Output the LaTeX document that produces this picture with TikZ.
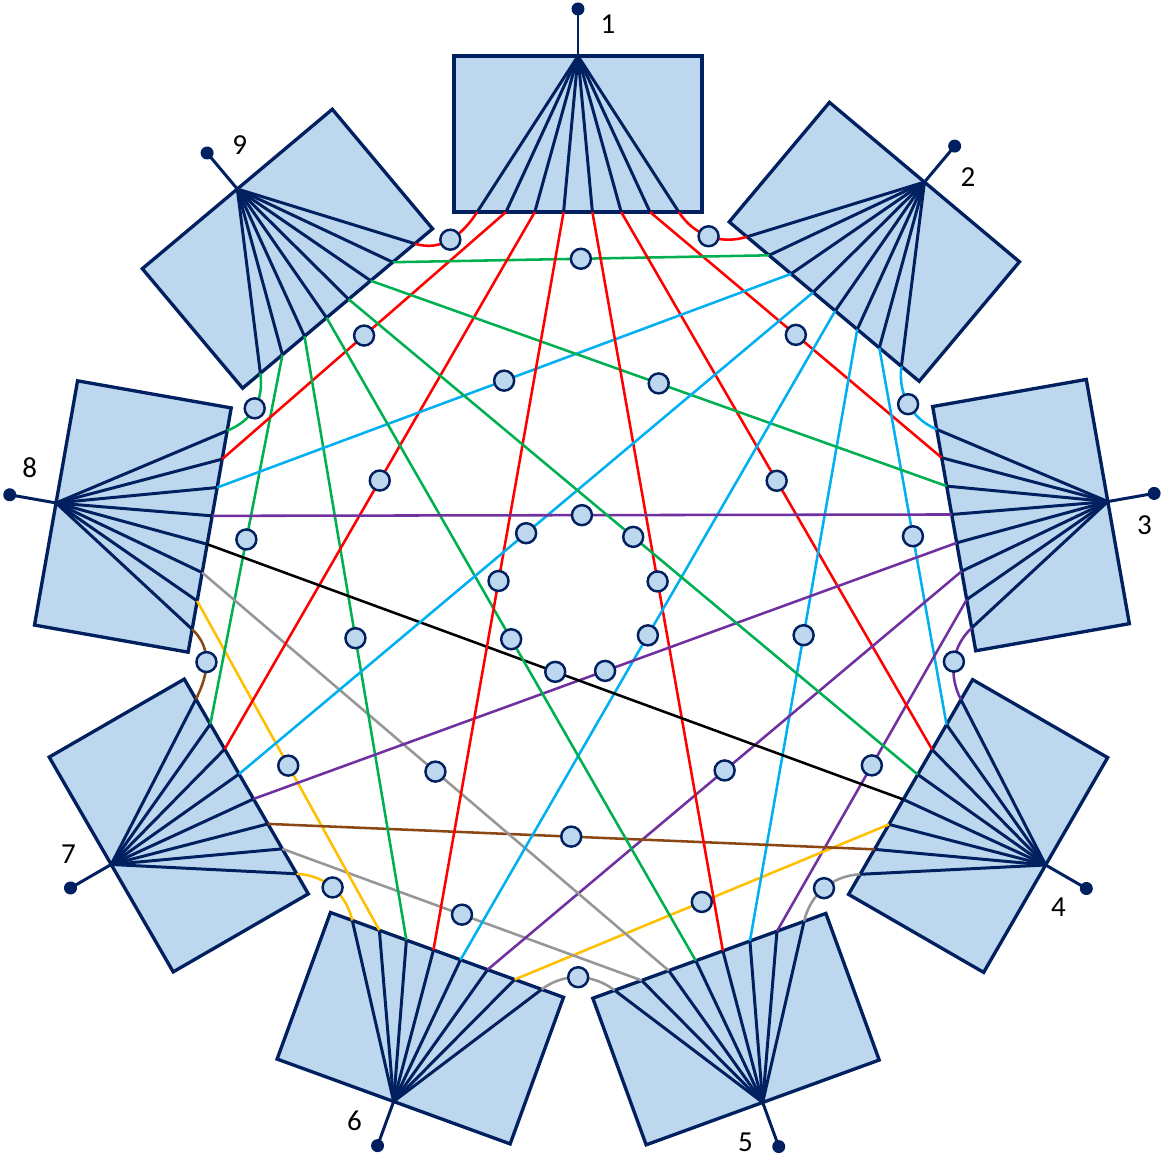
\documentclass[tikz,border=0pt]{standalone}
\usepackage{fontspec}
\setmainfont{Carlito}
\usetikzlibrary{calc}
\definecolor{N}{RGB}{0,32,96}
\definecolor{F}{RGB}{189,215,238}
\definecolor{Rd}{RGB}{255,0,0}
\definecolor{Gn}{RGB}{0,176,80}
\definecolor{Cy}{RGB}{0,176,240}
\definecolor{Pu}{RGB}{112,48,160}
\definecolor{Gy}{RGB}{150,150,150}
\definecolor{Ye}{RGB}{255,192,0}
\definecolor{Br}{RGB}{140,72,20}
\definecolor{Bk}{RGB}{0,0,0}
\def\Depth{156}
\def\Half{124}
\def\Gap{28.8}
\def\Arcs{1/2/Rd,2/3/Cy,3/4/Pu,4/5/Gy,5/6/Gy,6/7/Ye,7/8/Br,8/9/Gn,9/1/Rd}
\def\Chords{1/3/Rd,2/4/Cy,3/5/Pu,4/6/Ye,5/7/Gy,6/8/Ye,7/9/Gn,8/1/Rd,9/2/Gn,
    1/4/Rd,2/5/Cy,3/6/Pu,4/7/Br,5/8/Gy,6/9/Gn,7/1/Rd,8/2/Cy,9/3/Gn,
    1/5/Rd,2/6/Cy,3/7/Pu,4/8/Bk,5/9/Gn,6/1/Rd,7/2/Cy,8/3/Pu,9/4/Gn}

\begin{document}
\begin{tikzpicture}[x=0.02cm,y=0.02cm,
    fan/.style={N,line width=1.7pt},
    lnk/.style={line width=1.45pt},
    ring/.style={circle,draw=N,fill=F,line width=1.4pt,minimum size=0.4cm,inner sep=0pt},
    lab/.style={font=\fontsize{16.5}{16.5}\selectfont}]
    \useasboundingbox (-578,-563) rectangle (586,595);
    \foreach \k/\r in {1/539,2/539,3/538,4/540,5/540,6/539,7/539,8/530,9/530} {
        \pgfmathsetmacro\t{130-40*\k}
        \begin{scope}[shift={(\t:\r)},rotate=\t-90]
            \coordinate (A\k) at (0,0);
            \foreach \m in {1,...,9} {
                \pgfmathtruncatemacro\j{mod(\k-\m+9,9)}
                \coordinate (T\k-\m) at ({(\j-4.5)*\Gap},-\Depth);
            }
            \filldraw[fill=F,draw=N,line width=1.9pt] (-\Half,-\Depth) rectangle (\Half,0);
            \foreach \j in {1,...,8} {\draw[fan] (A\k) -- ({(\j-4.5)*\Gap},-\Depth);}
            \draw[fan] (A\k) -- (0,47) coordinate (P\k);
            \fill[N] (P\k) circle (6.5);
            \node[lab] (L\k) at (30,32) {\k};
        \end{scope}
    }
    % box 4 has its ends for 6 and 7 crossed
    \coordinate (S) at (T4-6);
    \coordinate (T4-6) at (T4-7);
    \coordinate (T4-7) at (S);
    \foreach \a/\b/\c in \Arcs {
        \draw[lnk,\c] (T\a-\b) .. controls ($(A\a)!1.15!(T\a-\b)$) and ($(A\b)!1.15!(T\b-\a)$) .. (T\b-\a) coordinate[pos=0.5] (M\a-\b);
    }
    \foreach \a/\b/\c in \Chords {\draw[lnk,\c] (T\a-\b) -- (T\b-\a) coordinate[pos=0.5] (M\a-\b);}
    \foreach \a/\b/\c in \Arcs {\node[ring] (C\a-\b) at (M\a-\b) {};}
    \foreach \a/\b/\c in \Chords {\node[ring] (C\a-\b) at (M\a-\b) {};}
\end{tikzpicture}
\end{document}
